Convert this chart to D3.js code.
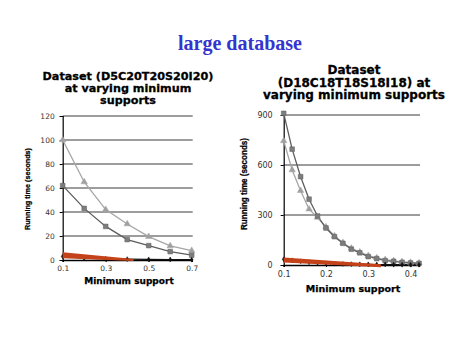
<!DOCTYPE html>
<html><head><meta charset="utf-8">
<script src="https://cdn.jsdelivr.net/npm/d3@7"></script>
<style>body{margin:0;background:#fff}svg{display:block}</style>
</head><body>
<svg id="c" width="474" height="355"></svg>
<script>
// ---- data ----
const mainTitle = "large database";

const leftTitle = ["Dataset (D5C20T20S20I20)", "at varying minimum", "supports"];
const leftCats = ["0.1","0.2","0.3","0.4","0.5","0.6","0.7"];
const leftTickIdx = [0, 2, 4, 6];
const leftYTicks = [0, 20, 40, 60, 80, 100, 120];
const leftA = [100, 65, 42, 30, 19.5, 11.7, 7.8];
const leftB = [62, 43, 28, 17, 12, 7, 4];
const leftC = [3, 1.5, 1, 0.7, 0.5, 0.4, 0.3];
const leftRedX = [0, 3.3];
const leftRedY = [4, 0];

const rightTitle = ["Dataset", "(D18C18T18S18I18) at", "varying minimum supports"];
const rightCats = ["0.10","0.12","0.14","0.16","0.18","0.20","0.22","0.24","0.26","0.28","0.30","0.32","0.34","0.36","0.38","0.40","0.42"];
const rightTickIdx = [0, 5, 10, 15];
const rightYTicks = [0, 300, 600, 900];
const rightA = [745, 570, 446, 335, 285, 228, 174, 134, 100, 77, 56, 42, 32, 25, 19, 15, 12];
const rightB = [910, 695, 530, 395, 294, 222, 170, 130, 95, 73, 50, 38, 26, 22, 16, 12, 10];
const rightC = [34, 28, 22, 17, 13, 10, 8, 6, 5, 4, 4, 3, 3, 2, 2, 2, 2];
const rightRedX = [0, 11.5];
const rightRedY = [30, -5];

const yTitle = "Running time (seconds)";
const xTitle = "Minimum support";

// ---- drawing ----
const svg = d3.select("#c");
svg.append("text").attr("x", 240).attr("y", 50).attr("text-anchor", "middle")
  .attr("font-family", "Liberation Serif, Times New Roman, serif").attr("font-weight", "bold")
  .attr("font-size", 20).attr("fill", "#3434cf").text(mainTitle);

function drawChart(o) {
  const g = svg.append("g");
  const n = o.cats.length;
  const x = d3.scaleLinear().domain([0, n - 1]).range([o.x0, o.x1]);
  const y = d3.scaleLinear().domain([0, o.yMax]).range([o.y0, o.y1]);

  // title
  o.title.forEach((t, i) => {
    g.append("text").attr("x", o.tx).attr("y", o.ty + i * o.tls).attr("text-anchor", "middle")
      .attr("font-family", "DejaVu Sans, sans-serif").attr("font-weight", "bold")
      .attr("font-size", o.tfs).attr("fill", "#000").attr("stroke", "#000").attr("stroke-width", 0.3).text(t);
  });

  // gridlines
  g.append("g").selectAll("line").data(o.yTicks.filter(v => v > 0)).join("line")
    .attr("x1", o.x0).attr("x2", o.x1 + 1).attr("y1", d => y(d)).attr("y2", d => y(d))
    .attr("stroke", "#3a3a3a").attr("stroke-width", 1);

  // y axis
  const ya = g.append("g").attr("transform", `translate(${o.x0},0)`)
    .call(d3.axisLeft(y).tickValues(o.yTicks).tickSize(3).tickPadding(o.ypad).tickFormat(d3.format("d")));
  ya.select(".domain").attr("stroke", "#000").attr("stroke-width", 1.2);
  ya.selectAll(".tick line").attr("stroke", "#000");
  ya.selectAll("text").attr("font-family", "DejaVu Sans, sans-serif").attr("font-size", o.lfs).attr("fill", "#333");

  // x axis
  const xa = g.append("g").attr("transform", `translate(0,${o.y0})`)
    .call(d3.axisBottom(x).tickValues(o.tickIdx).tickSize(2).tickPadding(o.xpad).tickFormat(i => o.cats[i].replace(/0$/, "")));
  xa.select(".domain").attr("stroke", "#000").attr("stroke-width", 1.5);
  xa.selectAll(".tick line").attr("stroke", "#000");
  xa.selectAll("text").attr("font-family", "DejaVu Sans, sans-serif").attr("font-size", o.lfs).attr("fill", "#333");

  // axis titles
  g.append("text").attr("transform", `translate(${o.ytx},${o.yty}) rotate(-90)`).attr("text-anchor", "middle")
    .attr("font-family", "Liberation Sans, Arial, sans-serif").attr("font-weight", "bold")
    .attr("font-size", o.ytfs).attr("textLength", o.ytlen).attr("lengthAdjust", "spacingAndGlyphs")
    .attr("fill", "#000").attr("stroke", "#000").attr("stroke-width", 0.25).text(yTitle);
  g.append("text").attr("x", o.xtx).attr("y", o.xty).attr("text-anchor", "middle")
    .attr("font-family", "DejaVu Sans, sans-serif").attr("font-weight", "bold")
    .attr("font-size", o.xtfs).attr("fill", "#000").attr("stroke", "#000").attr("stroke-width", 0.25).text(xTitle);

  const line = d3.line().x((d, i) => x(i)).y(d => y(d));
  const series = [
    {v: o.A, stroke: "#a6a6a6", fill: "#a0a0a0", sym: d3.symbolTriangle, size: 18, w: 1.3},
    {v: o.B, stroke: "#5e5e5e", fill: "#7d7d7d", sym: d3.symbolSquare, size: 22, w: 1.3},
    {v: o.C, stroke: "#111", fill: "#111", sym: d3.symbolDiamond, size: 7, w: 1.2}
  ];
  series.forEach(s => {
    g.append("path").datum(s.v).attr("d", line).attr("fill", "none")
      .attr("stroke", s.stroke).attr("stroke-width", s.w);
  });
  series.forEach(s => {
    g.append("g").selectAll("path").data(s.v).join("path")
      .attr("transform", (d, i) => `translate(${x(i)},${y(d)})`)
      .attr("d", d3.symbol(s.sym, s.size)).attr("fill", s.fill)
      .attr("stroke", s.stroke).attr("stroke-width", 0.5);
  });

  // red trend line (tapered)
  const red = o.redX.map((vx, i) => ({x: vx, y: o.redY[i], w: o.redW[i]}));
  g.append("path").datum(red)
    .attr("d", d3.area().x(d => x(d.x)).y0(d => y(d.y) - d.w / 2).y1(d => y(d.y) + d.w / 2))
    .attr("fill", "#c4421a");
}

drawChart({
  title: leftTitle, tx: 128, ty: 80, tls: 12, tfs: 11.2,
  cats: leftCats, tickIdx: leftTickIdx, yTicks: leftYTicks, yMax: 120,
  A: leftA, B: leftB, C: leftC, redX: leftRedX, redY: leftRedY, redW: [6, 2],
  x0: 62.7, x1: 191.7, y0: 260, y1: 116,
  lfs: 7.5, ypad: 5, xpad: 4,
  ytx: 30, yty: 189, ytfs: 8, ytlen: 82,
  xtx: 129, xty: 284, xtfs: 9
});

drawChart({
  title: rightTitle, tx: 354, ty: 74, tls: 12.5, tfs: 12,
  cats: rightCats, tickIdx: rightTickIdx, yTicks: rightYTicks, yMax: 900,
  A: rightA, B: rightB, C: rightC, redX: rightRedX, redY: rightRedY, redW: [5, 3],
  x0: 283.7, x1: 419, y0: 265, y1: 115,
  lfs: 8, ypad: 8, xpad: 4,
  ytx: 247, yty: 184, ytfs: 8.5, ytlen: 92,
  xtx: 353, xty: 292, xtfs: 9.5
});
</script>
</body></html>
